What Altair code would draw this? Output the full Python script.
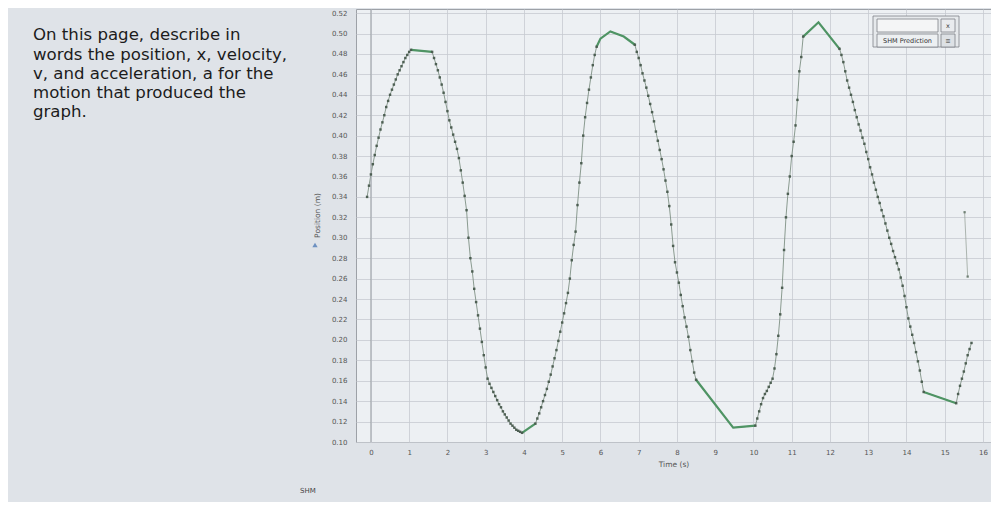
import altair as alt
import pandas as pd
import numpy as np

STEP = 0.05

# Dotted sample runs (start time, values every STEP seconds)
run1_start = -0.10
run1 = [0.340, 0.351, 0.362, 0.372, 0.381, 0.390, 0.398, 0.406, 0.413, 0.420,
        0.428, 0.434, 0.440, 0.445, 0.450, 0.455, 0.460, 0.464, 0.468, 0.472,
        0.476, 0.479, 0.482, 0.484]
run2_start = 1.60
run2 = [0.482, 0.476, 0.470, 0.464, 0.457, 0.450, 0.442, 0.433, 0.424, 0.415,
        0.408, 0.401, 0.394, 0.387, 0.378, 0.366, 0.354, 0.341, 0.327, 0.300,
        0.280, 0.267, 0.250, 0.237, 0.224, 0.211, 0.198, 0.185, 0.173, 0.162,
        0.157, 0.153, 0.149, 0.145, 0.141, 0.137, 0.134, 0.130, 0.127, 0.124,
        0.121, 0.118, 0.116, 0.114, 0.112, 0.111, 0.110, 0.109]
run3_start = 4.30
run3 = [0.118, 0.123, 0.128, 0.134, 0.140, 0.146, 0.152, 0.159, 0.166, 0.174,
        0.182, 0.190, 0.199, 0.208, 0.217, 0.226, 0.236, 0.246, 0.260, 0.278,
        0.293, 0.306, 0.332, 0.354, 0.373, 0.400, 0.418, 0.432, 0.445, 0.457,
        0.469, 0.479, 0.487]
run4_start = 6.90
run4 = [0.489, 0.482, 0.476, 0.469, 0.461, 0.454, 0.447, 0.439, 0.431, 0.423,
        0.414, 0.404, 0.395, 0.386, 0.377, 0.367, 0.356, 0.345, 0.331, 0.313,
        0.292, 0.276, 0.266, 0.256, 0.244, 0.233, 0.222, 0.213, 0.203, 0.190,
        0.179, 0.168, 0.161]
run5_start = 10.05
run5 = [0.116, 0.123, 0.130, 0.137, 0.143, 0.147, 0.150, 0.154, 0.158, 0.162,
        0.172, 0.186, 0.204, 0.225, 0.251, 0.288, 0.320, 0.343, 0.360, 0.380,
        0.394, 0.410, 0.435, 0.463, 0.477, 0.497]
run6_start = 12.25
run6 = [0.485, 0.479, 0.472, 0.463, 0.454, 0.447, 0.440, 0.433, 0.425, 0.418,
        0.411, 0.405, 0.398, 0.392, 0.384, 0.377, 0.369, 0.362, 0.354, 0.347,
        0.340, 0.334, 0.327, 0.321, 0.314, 0.307, 0.300, 0.294, 0.287, 0.281,
        0.275, 0.269, 0.261, 0.253, 0.243, 0.232, 0.221, 0.213, 0.205, 0.197,
        0.188, 0.179, 0.170, 0.159, 0.149]
run7_start = 15.30
run7 = [0.138, 0.147, 0.155, 0.162, 0.169, 0.177, 0.185, 0.191, 0.197]

# Vertices inside the gaps (drawn as green connecting segments)
gap_inner = [
    [],
    [],
    [(6.00, 0.495), (6.26, 0.502), (6.61, 0.497)],
    [(9.47, 0.114)],
    [(11.70, 0.511)],
    [],
]

# Faint prediction trace near the end
pred_t = [15.52, 15.60]
pred_v = [0.325, 0.262]

x_ticks = list(range(0, 17))
y_ticks = [round(0.10 + 0.02 * i, 2) for i in range(22)]

text_lines = ["On this page, describe in",
              "words the position, x, velocity,",
              "v, and acceleration, a for the",
              "motion that produced the",
              "graph."]

runs = [(run1_start, run1), (run2_start, run2), (run3_start, run3),
        (run4_start, run4), (run5_start, run5), (run6_start, run6),
        (run7_start, run7)]

dots = []
for s, vals in runs:
    for i, v in enumerate(vals):
        dots.append({"t": round(s + i * STEP, 3), "v": v})
dots_df = pd.DataFrame(dots)

gap_rows = []
for gi, inner in enumerate(gap_inner):
    s0, v0 = runs[gi]
    s1, v1 = runs[gi + 1]
    pts = [(round(s0 + (len(v0) - 1) * STEP, 3), v0[-1])] + inner + [(s1, v1[0])]
    for k, (t, v) in enumerate(pts):
        gap_rows.append({"t": t, "v": v, "seg": gi, "o": k})
gap_df = pd.DataFrame(gap_rows)

trace_df = pd.concat([dots_df, gap_df[["t", "v"]]]).drop_duplicates().sort_values("t")
pred_df = pd.DataFrame({"t": pred_t, "v": pred_v})

xs = alt.Scale(domain=[-0.39, 16.21], nice=False, zero=False)
ys = alt.Scale(domain=[0.10, 0.524], nice=False, zero=False)

x_axis = alt.Axis(values=x_ticks, format="d", grid=True, ticks=False,
                  domain=False, labelFontSize=7, labelColor="#555",
                  labelPadding=6, labelOverlap=False, labelFlush=False,
                  labelBound=False,
                  titleFontSize=7.5, titleColor="#555",
                  titleFontWeight="normal", titlePadding=5,
                  gridColor="#c6cad0", gridWidth=0.8)
y_axis = alt.Axis(values=y_ticks, format=".2f", grid=True, ticks=False,
                  domain=False, labelFontSize=7, labelColor="#555",
                  labelPadding=9, labelOverlap=False, labelFlush=False,
                  labelBound=False,
                  titleFontSize=7.5, titleColor="#555",
                  titleFontWeight="normal", titlePadding=10, titleY=206,
                  gridColor="#c6cad0", gridWidth=0.8)

X = alt.X("t:Q", scale=xs, title="Time (s)", axis=x_axis)
Y = alt.Y("v:Q", scale=ys, title="Position (m)", axis=y_axis)

base_line = alt.Chart(trace_df).mark_line(color="#7f9185", strokeWidth=0.9).encode(
    x=X, y=Y, order="t:Q")

zero_rule = alt.Chart(pd.DataFrame({"t": [0]})).mark_rule(
    color="#9ea2a8", strokeWidth=1).encode(x=X)

gap_lines = alt.Chart(gap_df).mark_line(color="#4f9464", strokeWidth=2.2).encode(
    x=X, y=Y, detail="seg:N", order="o:Q")

points = alt.Chart(dots_df).mark_point(
    shape="square", filled=True, size=6, color="#485a4d", opacity=0.95).encode(
    x=X, y=Y)

pred = alt.Chart(pred_df).mark_line(
    color="#9aa49d", strokeWidth=0.8, point=alt.OverlayMarkDef(
        shape="square", size=5, color="#6f7f73", filled=True)).encode(
    x=X, y=Y)

one = pd.DataFrame({"a": [1]})
annot = []

# left-hand prompt text
prompt_y = [31, 50.5, 69.5, 88.5, 107.5]
for line, yy in zip(text_lines, prompt_y):
    annot.append(alt.Chart(one).mark_text(
        align="left", baseline="alphabetic", font="DejaVu Sans", fontSize=16.6,
        color="#1c1c1c", text=line).encode(x=alt.value(-323), y=alt.value(yy)))

annot.append(alt.Chart(one).mark_text(
    align="left", baseline="alphabetic", fontSize=7, color="#444",
    font="DejaVu Sans", text="SHM").encode(x=alt.value(-56), y=alt.value(484)))

annot.append(alt.Chart(one).mark_point(
    shape="triangle-up", filled=True, size=28, color="#3d6db0").encode(
    x=alt.value(-41), y=alt.value(236)))

# legend widget (top right)
box_specs = [(517, 603, 7, 38, "#e6e9ec"), (521, 582, 10, 23, "#f4f5f6"),
             (585, 599, 10, 23, "#e9ebee"), (521, 582, 25, 38, "#edf0f2"),
             (585, 599, 25, 38, "#dde1e5")]
for bx, bx2, by, by2, bf in box_specs:
    annot.append(alt.Chart(one).mark_rect(
        stroke="#7d8288", strokeWidth=0.8, fill=bf).encode(
        x=alt.value(bx), x2=alt.value(bx2), y=alt.value(by), y2=alt.value(by2)))
for s, bx, by in [("SHM Prediction", 551.5, 31.5), ("x", 592, 16.5), ("≡", 592, 31.5)]:
    annot.append(alt.Chart(one).mark_text(
        fontSize=6.5, color="#333", baseline="middle", font="DejaVu Sans",
        text=s).encode(x=alt.value(bx), y=alt.value(by)))

chart = alt.layer(
    base_line, zero_rule, gap_lines, points, pred, *annot
).properties(
    width=635, height=433,
    padding={"left": 348, "top": 1, "right": 0, "bottom": 60},
    autosize=alt.AutoSizeParams(type="none"),
    background="#dfe3e8",
).configure_view(
    stroke="#9da1a7", strokeWidth=1, fill="#edf0f3"
).configure_axis(
    labelFont="DejaVu Sans", titleFont="DejaVu Sans"
)

chart.save("out.html", embed_options={"renderer": "svg", "actions": False})
